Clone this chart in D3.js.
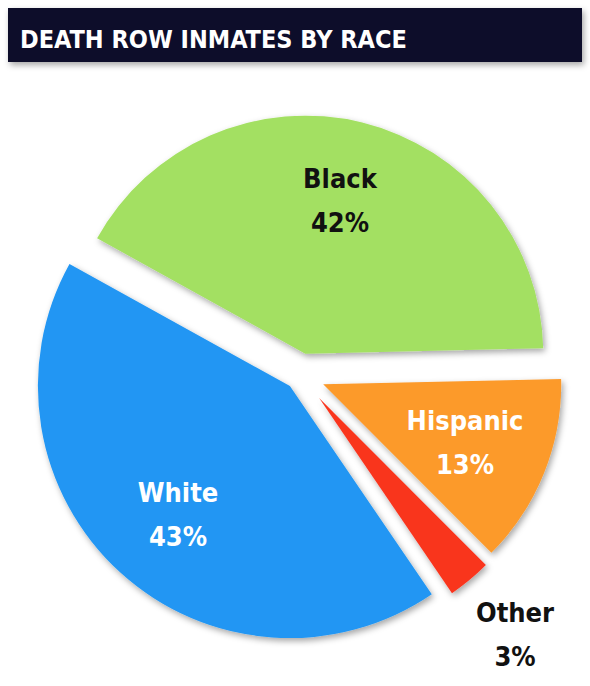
<!DOCTYPE html>
<html><head><meta charset="utf-8">
<script src="https://cdn.jsdelivr.net/npm/d3@7"></script>
<style>body{margin:0;background:#fff}</style></head>
<body><svg id="c" width="590" height="686"></svg>
<script>
const categories=["Black","Hispanic","Other","White"];
const values=[42,13,3,43];
const colors=["#a3e062","#fc9a2b","#f9341f","#2196f3"];
const labelColors=["#111","#fff","#111","#fff"];
const offsets=[22,25,30,15];
const radii=[238,238,236,252];
const labelPos=[[340,178],[465,420],[515,612],[178,492]];

const svg=d3.select("#c");
const defs=svg.append("defs");
const f=defs.append("filter").attr("id","sh").attr("x","-20%").attr("y","-20%").attr("width","140%").attr("height","140%");
f.append("feDropShadow").attr("dx",2).attr("dy",3).attr("stdDeviation",3).attr("flood-opacity",0.35);

svg.append("rect").attr("x",8).attr("y",8).attr("width",574).attr("height",54).attr("fill","#07072a").attr("filter","url(#sh)");
svg.append("text").attr("x",20).attr("y",48).attr("fill","#fff").attr("font-family","DejaVu Sans Condensed, DejaVu Sans").attr("font-weight","bold").attr("font-size",25).text("DEATH ROW INMATES BY RACE");

const start=-61*Math.PI/180;
const pie=d3.pie().sort(null).startAngle(start).endAngle(start+2*Math.PI);
const arcs=pie(values);
const cx=300,cy=375;
const g=svg.append("g").attr("transform",`translate(${cx},${cy})`);
arcs.forEach((a,i)=>{
  const m=(a.startAngle+a.endAngle)/2;
  const dx=Math.sin(m)*offsets[i],dy=-Math.cos(m)*offsets[i];
  g.append("path").attr("transform",`translate(${dx},${dy})`)
   .attr("d",d3.arc().innerRadius(0).outerRadius(radii[i])(a))
   .attr("fill",colors[i]).attr("filter","url(#sh)");
});
categories.forEach((c,i)=>{
  const t=svg.append("text").attr("text-anchor","middle").attr("fill",labelColors[i])
   .attr("font-family","DejaVu Sans Condensed, DejaVu Sans").attr("font-weight","bold").attr("font-size",27);
  t.append("tspan").attr("x",labelPos[i][0]).attr("y",labelPos[i][1]+10).text(c);
  t.append("tspan").attr("x",labelPos[i][0]).attr("y",labelPos[i][1]+54).text(values[i]+"%");
});
</script></body></html>
